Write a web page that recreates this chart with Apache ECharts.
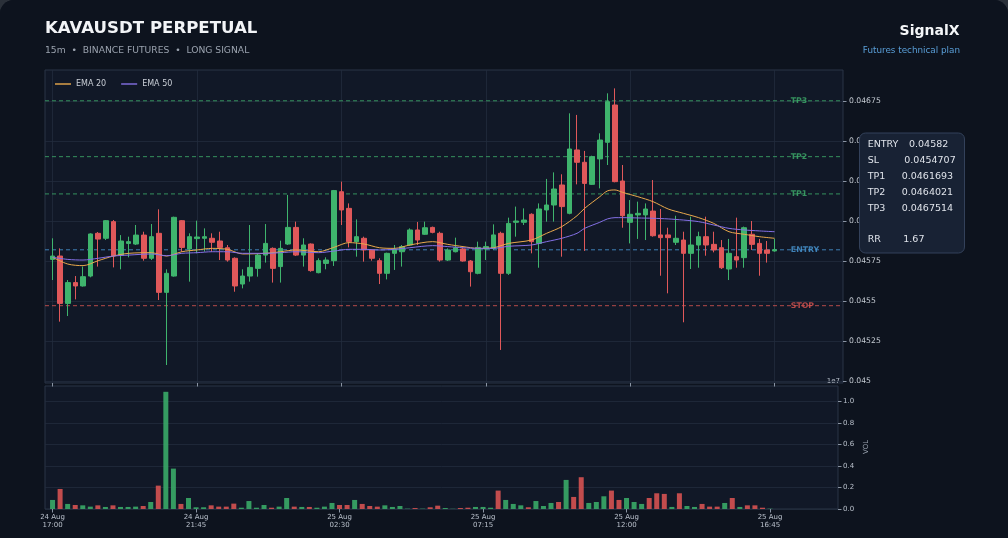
<!DOCTYPE html>
<html><head><meta charset="utf-8">
<script src="https://cdn.jsdelivr.net/npm/echarts@6/dist/echarts.min.js"></script>
<style>
html,body{margin:0;padding:0;background:#2a3039;}
#c{width:1008px;height:538px;border-radius:14px 14px 0 0;overflow:hidden;background:#0d131e;}
</style>
</head><body><div id="c"></div>
<script>
// ---- data ----
const opens = [0.045760,0.045781,0.045485,0.045615,0.045594,0.045656,0.045923,0.045892,0.045996,0.045787,
0.045860,0.045856,0.045912,0.045767,0.045923,0.045554,0.045656,0.046002,0.045825,0.045890,
0.045892,0.045892,0.045875,0.045833,0.045767,0.045606,0.045656,0.045704,0.045787,0.045829,
0.045715,0.045856,0.045960,0.045787,0.045856,0.045677,0.045735,0.045752,0.046183,0.046079,
0.045871,0.045892,0.045819,0.045752,0.045673,0.045798,0.045808,0.045850,0.045944,0.045917,
0.045960,0.045923,0.045756,0.045808,0.045825,0.045750,0.045673,0.045825,0.045829,0.045923,
0.045673,0.045992,0.045992,0.046042,0.045860,0.046069,0.046100,0.046225,0.046048,0.046444,
0.046367,0.046229,0.046388,0.046492,0.046725,0.046250,0.045992,0.046038,0.046038,0.046062,
0.045913,0.045913,0.045867,0.045881,0.045798,0.045850,0.045902,0.045854,0.045833,0.045700,
0.045777,0.045771,0.045917,0.045860,0.045819,0.045813];
const closes = [0.045781,0.045485,0.045615,0.045594,0.045652,0.045919,0.045887,0.046002,0.045781,0.045875,
0.045871,0.045912,0.045767,0.045902,0.045554,0.045673,0.046023,0.045835,0.045902,0.045900,
0.045902,0.045867,0.045835,0.045756,0.045594,0.045656,0.045710,0.045787,0.045860,0.045704,
0.045829,0.045960,0.045787,0.045850,0.045690,0.045752,0.045756,0.046190,0.046069,0.045871,
0.045902,0.045819,0.045767,0.045673,0.045798,0.045823,0.045840,0.045944,0.045881,0.045958,
0.045929,0.045756,0.045819,0.045833,0.045750,0.045683,0.045835,0.045840,0.045913,0.045673,
0.045985,0.046000,0.046006,0.045871,0.046075,0.046100,0.046200,0.046090,0.046450,0.046367,
0.046235,0.046402,0.046506,0.046746,0.046246,0.046033,0.046042,0.046048,0.046075,0.045908,
0.045896,0.045896,0.045892,0.045798,0.045850,0.045902,0.045850,0.045819,0.045708,0.045798,
0.045756,0.045958,0.045854,0.045798,0.045798,0.045821];
const lows = [0.045631,0.045371,0.045406,0.045510,0.045590,0.045648,0.045715,0.045881,0.045710,0.045698,
0.045773,0.045850,0.045752,0.045756,0.045506,0.045100,0.045652,0.045808,0.045621,0.045798,
0.045808,0.045808,0.045756,0.045746,0.045558,0.045579,0.045621,0.045652,0.045740,0.045615,
0.045615,0.045850,0.045781,0.045715,0.045683,0.045673,0.045698,0.045719,0.045975,0.045835,
0.045777,0.045746,0.045752,0.045606,0.045635,0.045694,0.045715,0.045844,0.045850,0.045913,
0.045923,0.045746,0.045750,0.045804,0.045746,0.045590,0.045667,0.045756,0.045819,0.045194,
0.045663,0.045902,0.045975,0.045798,0.045708,0.045996,0.045996,0.045777,0.046042,0.046229,
0.045813,0.046225,0.046204,0.046350,0.046242,0.045958,0.045860,0.045888,0.045881,0.045902,
0.045658,0.045548,0.045850,0.045367,0.045700,0.045708,0.045783,0.045804,0.045700,0.045631,
0.045708,0.045708,0.045819,0.045658,0.045740,0.045808];
const highs = [0.045892,0.045829,0.045631,0.045656,0.045715,0.045923,0.045931,0.046006,0.046006,0.045912,
0.045902,0.045975,0.045933,0.045981,0.046073,0.045698,0.046027,0.046006,0.045923,0.046002,
0.045954,0.045923,0.045933,0.045850,0.045773,0.045698,0.045975,0.045798,0.045981,0.045835,
0.045877,0.046163,0.045996,0.045892,0.045860,0.045767,0.045773,0.046194,0.046246,0.046110,
0.046010,0.045902,0.045823,0.045767,0.045802,0.045850,0.045850,0.045954,0.045994,0.045996,
0.045965,0.045933,0.045829,0.045896,0.045833,0.045756,0.045871,0.045871,0.045979,0.045933,
0.046021,0.046090,0.046079,0.046048,0.046110,0.046263,0.046304,0.046292,0.046673,0.046663,
0.046438,0.046408,0.046548,0.046798,0.046829,0.046350,0.046131,0.046121,0.046110,0.046256,
0.046075,0.045958,0.046033,0.045933,0.046027,0.045933,0.046027,0.045933,0.045881,0.045888,
0.046021,0.045965,0.046000,0.045888,0.045875,0.045888];
const volumes = [840000,1860000,470000,370000,340000,220000,340000,190000,340000,190000,
190000,220000,280000,650000,2170000,10880000,3750000,470000,1020000,160000,
160000,340000,220000,220000,500000,120000,740000,120000,370000,120000,
220000,1020000,220000,190000,190000,120000,220000,560000,370000,370000,
840000,470000,280000,220000,340000,190000,280000,30000,90000,30000,
160000,310000,90000,20000,90000,120000,190000,190000,120000,1710000,
840000,470000,340000,160000,740000,280000,560000,650000,2700000,1120000,
2950000,560000,650000,1180000,1710000,840000,1020000,650000,470000,1020000,
1460000,1400000,190000,1460000,280000,190000,470000,220000,220000,560000,
1020000,190000,340000,340000,120000,30000];
// EMA values read at sampled candles
const ema20Idx = [0,2,4,6,8,10,13,15,17,19,21,23,25,28,30,32,35,37,39,41,43,45,47,50,52,54,56,58,60,63,65,67,69,70,72,73,74,75,77,79,81,83,85,87,89,91,93,95];
const ema20Val = [0.045773,0.045731,0.045721,0.045752,0.045781,0.045798,0.045802,0.045781,0.045808,0.045819,0.045829,0.045823,0.045794,0.045798,0.045808,0.045819,0.045808,0.045835,0.045865,0.045856,0.045833,0.045829,0.045850,0.045871,0.045854,0.045840,0.045829,0.045833,0.045860,0.045881,0.045923,0.045965,0.046033,0.046079,0.046152,0.046188,0.046194,0.046179,0.046152,0.046121,0.046075,0.046048,0.046021,0.045985,0.045933,0.045917,0.045902,0.045892];
const ema50Idx = ema20Idx;
const ema50Val = [0.045773,0.045760,0.045756,0.045767,0.045781,0.045787,0.045794,0.045783,0.045798,0.045802,0.045808,0.045808,0.045798,0.045798,0.045802,0.045808,0.045802,0.045812,0.045823,0.045823,0.045819,0.045823,0.045833,0.045846,0.045840,0.045833,0.045829,0.045829,0.045842,0.045850,0.045871,0.045892,0.045923,0.045954,0.045992,0.046013,0.046021,0.046021,0.046019,0.046017,0.046013,0.046006,0.045996,0.045975,0.045954,0.045944,0.045938,0.045933];
const levelNames = ['TP3','TP2','TP1','ENTRY','STOP'];
const levelValues = [0.0467514,0.0464021,0.0461693,0.04582,0.0454707];
const levelColors = ['#3eaf6c','#3eaf6c','#3eaf6c','#4a9ad8','#dc5652'];
const priceTicks = [0.045,0.04525,0.0455,0.04575,0.046,0.04625,0.0465,0.04675];
const volTicks = [0,2000000,4000000,6000000,8000000,10000000];
const infoLabels = ['ENTRY','SL','TP1','TP2','TP3','','RR'];
const infoValues = ['0.04582','0.0454707','0.0461693','0.0464021','0.0467514','','1.67'];

// time categories: 24 Aug 17:00 .. 25 Aug 16:45, 15m
const times = [];
for (let k = 0; k < 96; k++) {
  const m = 17*60 + k*15; const day = 24 + Math.floor(m/1440); const mm = m % 1440;
  times.push(day + ' Aug\n' + String(Math.floor(mm/60)).padStart(2,'0') + ':' + String(mm%60).padStart(2,'0'));
}
const PADL = 1, PADR = 9;
const cats = [''].concat(times);
for (let k = 0; k < PADR; k++) cats.push(' ' + k);
const LASTCAT = cats.length - 1;

const candleData = ['-'].concat(opens.map((o,i)=>[o, closes[i], lows[i], highs[i]]));
const GREEN = '#3fb46d', RED = '#e0585a';
const volData = ['-'].concat(volumes.map((v,i)=>({value:v, itemStyle:{color: closes[i]>=opens[i] ? 'rgba(58,170,104,0.9)' : 'rgba(214,82,82,0.9)'}})));
const ema20Data = ema20Idx.map((x,k)=>[x+PADL, ema20Val[k]]);
const ema50Data = ema50Idx.map((x,k)=>[x+PADL, ema50Val[k]]);

const isTick = (idx) => idx >= 1 && idx <= 96 && (idx-1) % 19 === 0;
const FONT = 'DejaVu Sans';
const GRIDC = '#222c3c';

const chart = echarts.init(document.getElementById('c'), null, {renderer:'canvas'});
const graphics = [
  {type:'text', left:45, top:20, style:{text:'KAVAUSDT PERPETUAL', fill:'#f2f4f7', font:'bold 16.6px "DejaVu Sans"'}},
  {type:'text', left:45, top:46, style:{text:'15m  •  BINANCE FUTURES  •  LONG SIGNAL', fill:'#9aa2ae', font:'9.2px "DejaVu Sans"'}},
  {type:'text', x:959.5, y:31, style:{text:'SignalX', fill:'#f4f6f8', font:'bold 14px "DejaVu Sans"', align:'right', verticalAlign:'middle'}},
  {type:'text', x:960, y:50.5, style:{text:'Futures technical plan', fill:'#5a9fd8', font:'8.8px "DejaVu Sans"', align:'right', verticalAlign:'middle'}},
  {type:'text', x:840, y:381, style:{text:'1e7', fill:'#b9c0cb', font:'7px "DejaVu Sans"', align:'right', verticalAlign:'middle'}},
  {type:'text', x:866, y:447, rotation:Math.PI/2, style:{text:'VOL', fill:'#9aa3b0', font:'7px "DejaVu Sans"', align:'center', verticalAlign:'middle'}},
  {type:'rect', shape:{x:859.5, y:133, width:105, height:120, r:6}, style:{fill:'#182234', stroke:'#33415a', lineWidth:1}, z:100}
];
const rowY = [144.3,160.3,176.3,192.2,208.1,224,239.8];
const valX = [909,904.3,901.7,901.7,901.7,0,903.3];
infoLabels.forEach((t,k)=>{
  if (!t) return;
  graphics.push({type:'text', x:867.7, y:rowY[k], z:101, style:{text:t, fill:'#dfe3ea', font:'9.5px "DejaVu Sans"', verticalAlign:'middle'}});
  graphics.push({type:'text', x:valX[k], y:rowY[k], z:101, style:{text:infoValues[k], fill:'#dfe3ea', font:'9.5px "DejaVu Sans"', verticalAlign:'middle'}});
});

const levelSeries = levelValues.map((v,k)=>({
  type:'line', name:'lvl'+k, xAxisIndex:0, yAxisIndex:0, data:[[0, v],[LASTCAT, v]],
  showSymbol:false, silent:true, z:2,
  lineStyle:{color:levelColors[k], type:[4,3], width:1, opacity:0.8}
}));

const option = {
  backgroundColor:'#0d131e',
  animation:false,
  textStyle:{fontFamily:FONT},
  legend:{
    data:['EMA 20','EMA 50'], left:50, top:75, icon:'rect', itemWidth:16, itemHeight:1.4, itemGap:15,
    textStyle:{color:'#c9ced6', fontSize:8, fontFamily:FONT}
  },
  grid:[
    {left:45, right:165, top:70, height:313, show:true, backgroundColor:'#111827', borderColor:'#2a3446', borderWidth:1},
    {left:45, right:170, top:386, height:123, show:true, backgroundColor:'#111827', borderColor:'#2a3446', borderWidth:1}
  ],
  xAxis:[
    {type:'category', gridIndex:0, data:cats, boundaryGap:false,
     axisLine:{show:false}, axisLabel:{show:false},
     axisTick:{show:true, interval:(i)=>isTick(i), length:3.5, lineStyle:{color:'#8a94a3'}},
     splitLine:{show:true, interval:(i)=>isTick(i), lineStyle:{color:GRIDC, width:0.8}}},
    {type:'category', gridIndex:1, data:cats, boundaryGap:false,
     axisLine:{show:false},
     axisTick:{show:true, interval:(i)=>isTick(i), length:3.5, lineStyle:{color:'#8a94a3'}},
     axisLabel:{show:true, interval:(i)=>isTick(i), color:'#b9c0cb', fontSize:7, lineHeight:8, margin:4, fontFamily:FONT},
     splitLine:{show:false}}
  ],
  yAxis:[
    {type:'value', gridIndex:0, position:'right', min:0.0449875, max:0.0469438, scale:true,
     axisLine:{show:false},
     axisTick:{show:true, length:3.5, customValues:priceTicks, lineStyle:{color:'#8a94a3'}},
     axisLabel:{show:true, customValues:priceTicks, color:'#c5cbd3', fontSize:7.7, margin:6, fontFamily:FONT,
       formatter:(v)=>String(parseFloat(Number(v).toFixed(6)))},
     splitLine:{show:true, lineStyle:{color:GRIDC, width:0.8}}},
    {type:'value', gridIndex:1, position:'right', min:0, max:11420000,
     axisLine:{show:false},
     axisTick:{show:true, length:3.5, customValues:volTicks, lineStyle:{color:'#8a94a3'}},
     axisLabel:{show:true, customValues:volTicks, color:'#b9c0cb', fontSize:7, margin:5, fontFamily:FONT,
       formatter:(v)=>(v/1e7).toFixed(1)},
     splitLine:{show:true, lineStyle:{color:GRIDC, width:0.8}}}
  ],
  series:[
    {type:'candlestick', name:'KAVA', xAxisIndex:0, yAxisIndex:0, data:candleData, barWidth:5, z:4,
     itemStyle:{color:GREEN, color0:RED, borderColor:GREEN, borderColor0:RED, borderWidth:1}},
    {type:'line', name:'EMA 20', xAxisIndex:0, yAxisIndex:0, data:ema20Data, showSymbol:false, smooth:0.3,
     lineStyle:{color:'#eaa94c', width:1}, itemStyle:{color:'#eaa94c'}, z:5},
    {type:'line', name:'EMA 50', xAxisIndex:0, yAxisIndex:0, data:ema50Data, showSymbol:false, smooth:0.3,
     lineStyle:{color:'#8470e6', width:1}, itemStyle:{color:'#8470e6'}, z:5},
    {type:'scatter', name:'levels', xAxisIndex:0, yAxisIndex:0, symbolSize:0, silent:true, z:6,
     data: levelValues.map((v,k)=>({value:[98, v], name:levelNames[k],
       label:{show:true, position:'right', distance:1, formatter:levelNames[k], color:levelColors[k], fontSize:7.8, fontWeight:'bold', fontFamily:FONT}}))},
    {type:'bar', name:'VOL', xAxisIndex:1, yAxisIndex:1, data:volData, barWidth:5}
  ].concat(levelSeries),
  graphic:graphics
};
chart.setOption(option);
</script></body></html>
